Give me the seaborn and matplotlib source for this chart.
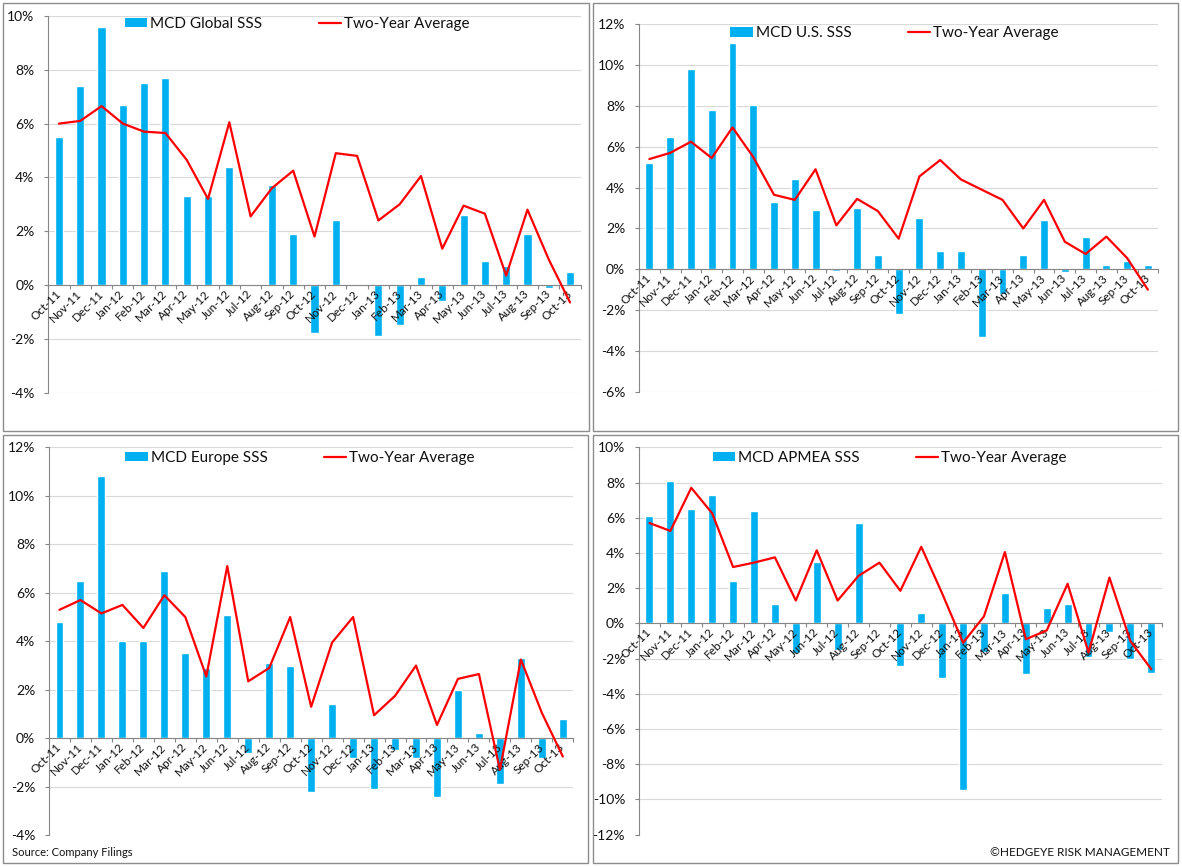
import numpy as np
import pandas as pd
import seaborn as sns
from matplotlib import pyplot as plt
from matplotlib.patches import Patch, Rectangle
from matplotlib.lines import Line2D

months = ['Oct-11', 'Nov-11', 'Dec-11', 'Jan-12', 'Feb-12', 'Mar-12', 'Apr-12',
          'May-12', 'Jun-12', 'Jul-12', 'Aug-12', 'Sep-12', 'Oct-12', 'Nov-12',
          'Dec-12', 'Jan-13', 'Feb-13', 'Mar-13', 'Apr-13', 'May-13', 'Jun-13',
          'Jul-13', 'Aug-13', 'Sep-13', 'Oct-13']

global_sss = [5.5, 7.4, 9.6, 6.7, 7.5, 7.7, 3.3, 3.3, 4.4, 0.0, 3.7, 1.9, -1.8,
              2.4, 0.0, -1.9, -1.5, 0.3, -0.6, 2.6, 0.9, 0.7, 1.9, -0.1, 0.5]
global_avg = [6.0, 6.1, 6.65, 6.0, 5.7, 5.65, 4.65, 3.2, 6.05, 2.55, 3.6, 4.25, 1.8,
              4.9, 4.8, 2.4, 3.0, 4.05, 1.35, 2.95, 2.65, 0.35, 2.8, 0.95, -0.65]

us_sss = [5.2, 6.5, 9.8, 7.8, 11.1, 8.05, 3.3, 4.4, 2.9, -0.1, 3.0, 0.7, -2.2,
          2.5, 0.9, 0.9, -3.3, -1.2, 0.7, 2.4, -0.15, 1.6, 0.2, 0.4, 0.2]
us_avg = [5.4, 5.7, 6.25, 5.45, 6.95, 5.5, 3.65, 3.4, 4.9, 2.15, 3.45, 2.85, 1.5,
          4.55, 5.35, 4.4, 3.9, 3.4, 2.0, 3.4, 1.35, 0.75, 1.6, 0.55, -1.0]

europe_sss = [4.8, 6.5, 10.8, 4.0, 4.0, 6.9, 3.5, 2.9, 5.1, -0.6, 3.1, 3.0, -2.2,
              1.4, -0.8, -2.1, -0.5, -0.8, -2.4, 2.0, 0.2, -1.9, 3.3, -0.8, 0.8]
europe_avg = [5.3, 5.7, 5.15, 5.5, 4.55, 5.9, 5.0, 2.55, 7.1, 2.35, 2.9, 5.0, 1.3,
              3.95, 5.0, 0.95, 1.75, 3.0, 0.55, 2.45, 2.65, -1.3, 3.25, 1.05, -0.75]

apmea_sss = [6.1, 8.1, 6.5, 7.3, 2.4, 6.4, 1.1, -1.7, 3.5, -1.5, 5.7, 0.1, -2.4,
             0.6, -3.1, -9.45, -1.6, 1.7, -2.85, 0.9, 1.1, -1.9, -0.5, -2.05, -2.8]
apmea_avg = [5.7, 5.25, 7.7, 6.25, 3.2, 3.45, 3.75, 1.3, 4.15, 1.3, 2.7, 3.45, 1.85,
             4.35, 1.7, -1.1, 0.4, 4.05, -0.9, -0.4, 2.25, -1.65, 2.6, -1.0, -2.6]

bar_color = '#00B0F0'
line_color = '#FF0000'
grid_color = '#D9D9D9'
axis_color = '#868686'
box_color = '#8C8C8C'

W, H = 1182, 867

sns.set_theme(style='white')
plt.rcParams['font.family'] = ['Lato', 'DejaVu Sans']
plt.rcParams['text.color'] = '#111111'
plt.rcParams['xtick.color'] = '#111111'
plt.rcParams['ytick.color'] = '#111111'


def px_rect(left, top, right, bottom):
    return [left / W, 1 - bottom / H, (right - left) / W, (bottom - top) / H]


def sss_panel(fig, rect, sss, avg, label, ylim, leg_xy):
    ax = fig.add_axes(rect)
    df = pd.DataFrame({'pos': np.arange(len(months)), 'sss': sss, 'avg': avg})

    sns.barplot(data=df, x='pos', y='sss', native_scale=True, color=bar_color,
                saturation=1, width=0.38, errorbar=None, ax=ax, zorder=2)
    sns.lineplot(data=df, x='pos', y='avg', color=line_color, lw=1.6, ax=ax, zorder=4)

    ax.set_xlim(-0.5, len(months) - 0.5)
    ax.set_ylim(*ylim)
    ax.set_xlabel('')
    ax.set_ylabel('')

    # spine position first: moving it resets the ticks
    for s in ['top', 'right']:
        ax.spines[s].set_visible(False)
    ax.spines['bottom'].set_position(('data', 0))
    ax.spines['bottom'].set_zorder(3)
    for s in ['bottom', 'left']:
        ax.spines[s].set_color(axis_color)
        ax.spines[s].set_linewidth(0.8)

    ax.tick_params(axis='x', which='major', bottom=True, length=0, pad=5)
    ax.tick_params(axis='x', which='minor', bottom=True, length=3, width=0.8,
                   color=axis_color, direction='out')
    ax.tick_params(axis='y', left=True, length=3, width=0.8, color=axis_color,
                   direction='out', pad=7)

    yt = np.arange(ylim[0], ylim[1] + 1, 2)
    ax.set_yticks(yt, ['%d%%' % v for v in yt], fontsize=10)
    ax.set_xticks(df['pos'], months, rotation=45, ha='right', va='center',
                  rotation_mode='anchor', fontsize=8.5)
    ax.set_xticks(np.arange(-0.5, len(months)), minor=True)

    ax.grid(axis='y', color=grid_color, lw=0.8)
    ax.set_axisbelow(True)
    # month labels sit on top of the negative bars, under the red line
    ax.xaxis.set_zorder(3.5)

    handles = [Patch(facecolor=bar_color, edgecolor='none'),
               Line2D([], [], color=line_color, lw=1.6)]
    ax.legend(handles, [label, 'Two-Year Average'], loc='center', bbox_to_anchor=leg_xy,
              ncol=2, frameon=False, fontsize=11, handlelength=1.45, handleheight=0.55,
              handletextpad=0.2, columnspacing=3.7, borderpad=0)
    return ax


fig = plt.figure(figsize=(W / 100, H / 100), dpi=100)

for x0, y0, x1, y1 in [(2.5, 3, 589, 431), (592.5, 3, 1178, 431),
                       (2.5, 435, 588, 863), (592.5, 435, 1178, 863)]:
    fig.add_artist(Rectangle((x0 / W, 1 - y1 / H), (x1 - x0) / W, (y1 - y0) / H,
                             transform=fig.transFigure, fill=False,
                             edgecolor=box_color, lw=1))

sss_panel(fig, px_rect(48.3, 16, 580.7, 392.6), global_sss, global_avg,
          'MCD Global SSS', (-4, 10), (0.467, 0.978))
sss_panel(fig, px_rect(639, 24.3, 1158.3, 391.8), us_sss, us_avg,
          'MCD U.S. SSS', (-6, 12), (0.492, 0.975))
sss_panel(fig, px_rect(49, 447.3, 573.3, 835.3), europe_sss, europe_avg,
          'MCD Europe SSS', (-4, 12), (0.479, 0.972))
sss_panel(fig, px_rect(639, 447.3, 1161.7, 834.7), apmea_sss, apmea_avg,
          'MCD APMEA SSS', (-12, 10), (0.48, 0.972))

fig.text(12 / W, 1 - 852 / H, 'Source: Company Filings', fontsize=8,
         ha='left', va='center')
fig.text(1170 / W, 1 - 852 / H, '©HEDGEYE RISK MANAGEMENT', fontsize=8.5,
         ha='right', va='center')

fig.savefig('out.png', dpi=100, facecolor='white')
